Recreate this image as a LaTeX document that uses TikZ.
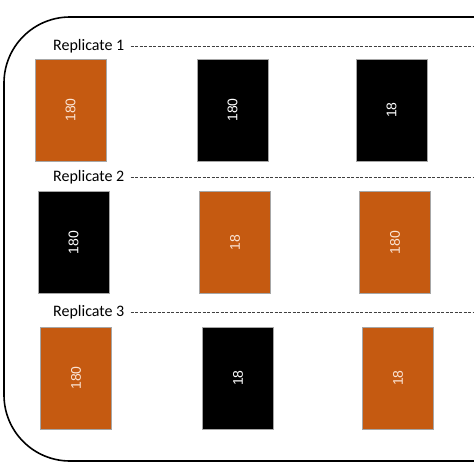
\documentclass[tikz,border=0pt]{standalone}
\usepackage{fontspec}
\setmainfont{Carlito}
\newfontfamily\numfont{Liberation Sans}
\definecolor{plotorange}{HTML}{C55A11}
\definecolor{plotpeach}{HTML}{FBE5D6}
\begin{document}
\begin{tikzpicture}[x=1pt, y=-1pt,
    plotbox/.style={rectangle, draw=gray!70, line width=0.6pt, minimum width=71pt, minimum height=102pt, inner sep=0pt},
    orangebox/.style={plotbox, fill=plotorange},
    blackbox/.style={plotbox, fill=black},
    plotval/.style={rotate=90, font=\numfont\fontsize{14}{16}\selectfont},
    replabel/.style={font=\fontsize{16}{19}\selectfont, inner xsep=1pt, anchor=west},
    repline/.style={dashed, dash pattern=on 3pt off 1.5pt, line width=0.7pt, black!75},
]
\useasboundingbox (0,0) rectangle (474,474);
\clip (0,0) rectangle (474,474);
\fill[white] (0,0) rectangle (474,474);
% Frame
\draw[line width=1.6pt, rounded corners=66pt] (4,17) rectangle (560,461);
\coordinate (edge) at (480,0);

% Replicate labels and dashed lines
\foreach \i/\y in {1/46, 2/177, 3/312} {
    \node[replabel] (rep\i) at (52,\y) {Replicate \i};
    \draw[repline] ([xshift=5pt]rep\i.east) -- (rep\i.east -| edge);
}

% Plots
\foreach \r/\c/\x/\y/\kind/\val/\col in {
    1/1/70.5/110/orangebox/180/plotpeach, 1/2/232.5/110/blackbox/180/white, 1/3/391.5/110/blackbox/18/white,
    2/1/73.5/242.5/blackbox/180/white, 2/2/235/242.5/orangebox/18/plotpeach, 2/3/395/242.5/orangebox/180/plotpeach,
    3/1/76/378/orangebox/180/plotpeach, 3/2/238/378/blackbox/18/white, 3/3/398/378/orangebox/18/plotpeach} {
    \node[\kind] (p\r\c) at (\x,\y) {};
    \node[plotval, text=\col] (v\r\c) at (p\r\c.center) {\val};
}
\end{tikzpicture}
\end{document}
